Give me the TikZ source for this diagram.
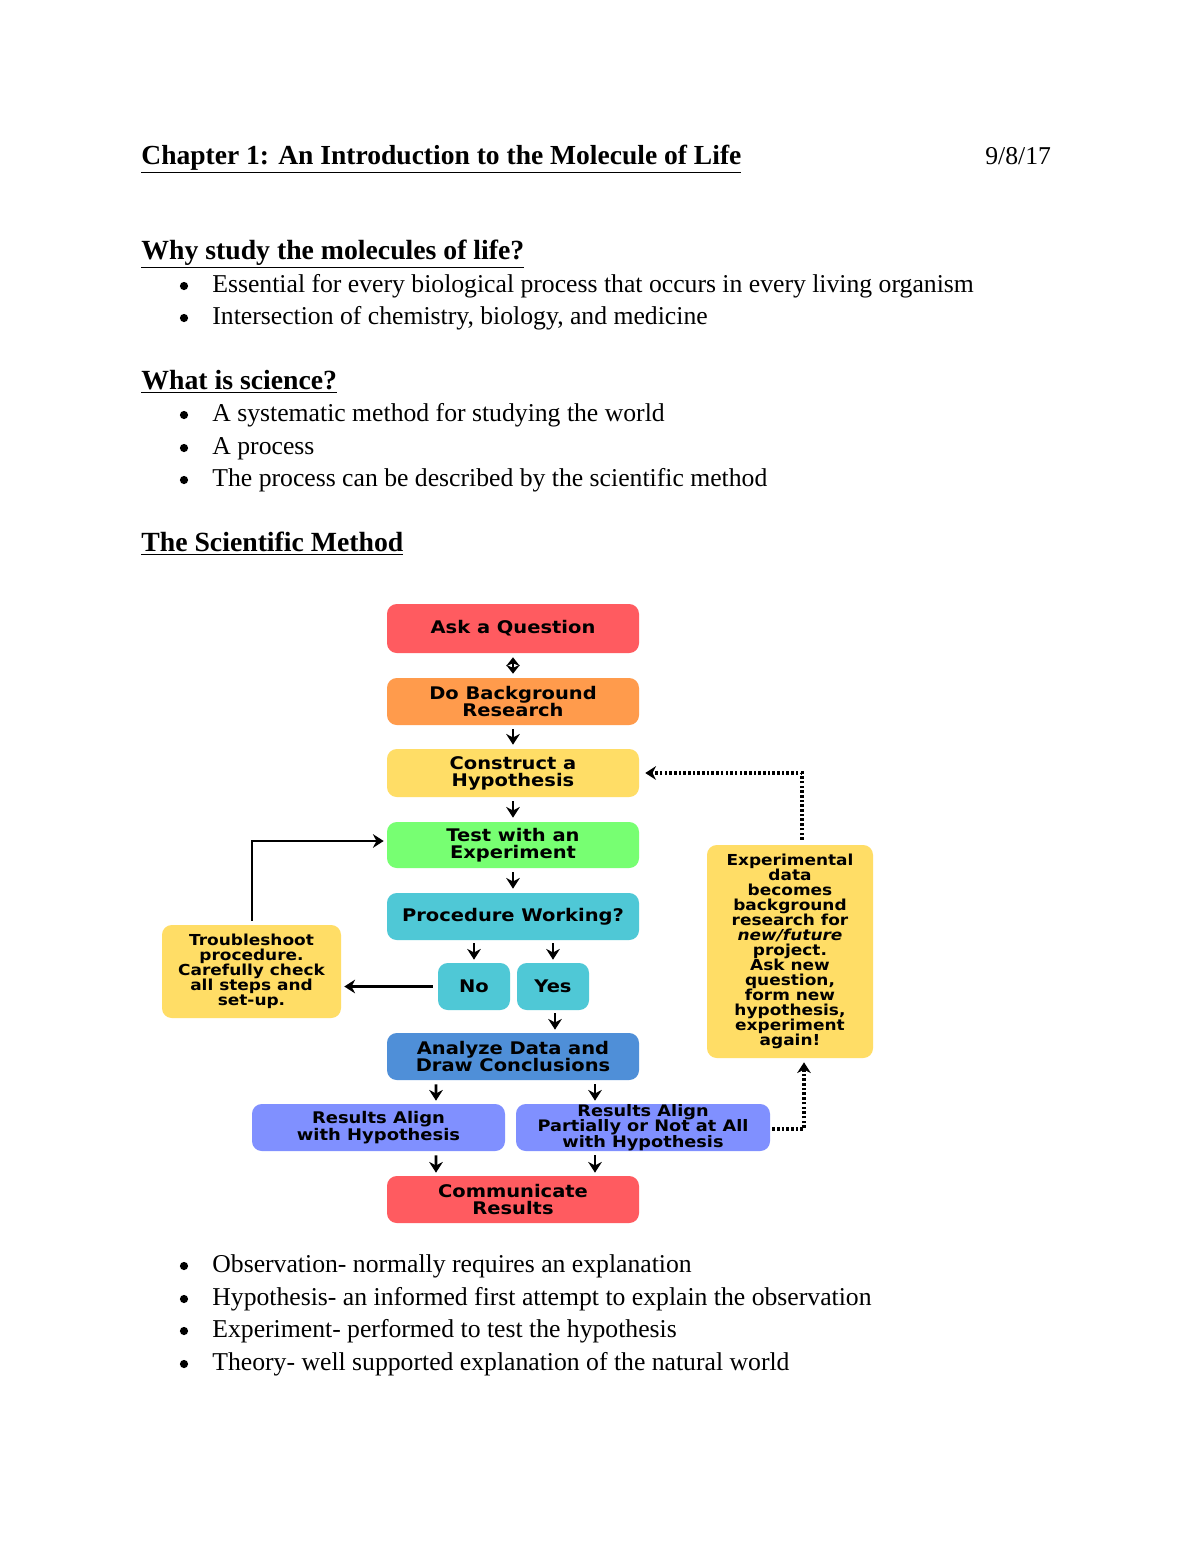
\documentclass[tikz,border=0pt]{standalone}
\usepackage{fontspec}
\setmainfont{Liberation Serif}
\setsansfont{DejaVu Sans}
\newfontfamily\fcf[FakeStretch=1.12]{DejaVu Sans}
\usetikzlibrary{arrows.meta,calc}
\definecolor{cred}{HTML}{FF5B60}
\definecolor{corange}{HTML}{FF9B4C}
\definecolor{cyellow}{HTML}{FFDD66}
\definecolor{cgreen}{HTML}{77FF72}
\definecolor{ccyan}{HTML}{4FC8D6}
\definecolor{cblue}{HTML}{4F8FD8}
\definecolor{cperi}{HTML}{8090FF}
\newcommand\pxu{0.51191pt}
\newcommand\ulin[1]{\underline{#1}}
\newcommand\tightls{\setlength{\lineskiplimit}{-100pt}\setlength{\lineskip}{0pt}}
\begin{document}
\begin{tikzpicture}[x=0.51191pt,y=-0.51191pt,
  txt/.style={anchor=base west,inner sep=0pt,font=\fontsize{13.15}{15}\selectfont},
  head/.style={txt,font=\fontsize{14.2}{16}\selectfont\bfseries},
  fc/.style={rectangle,rounded corners=5pt,draw=none,align=center,inner sep=0pt,text=black,
    font=\fcf\bfseries\fontsize{8.9}{8.7}\selectfont\tightls},
  fcs/.style={fc,font=\fcf\bfseries\fontsize{7.75}{7.65}\selectfont\tightls},
  arr/.style={-{Stealth[length=5.5pt,width=7pt]},line width=1.5pt},
  dotarr/.style={-{Stealth[length=5.5pt,width=7pt]},line width=1.7pt,dash pattern=on 1.3pt off 1.1pt},
  bul/.style={circle,fill=black,inner sep=0pt,minimum size=4.2pt}]
\useasboundingbox (0,0) rectangle (1200,1553);
\fill[white] (0,0) rectangle (1200,1553);

% headings and text
\node[head,font=\fontsize{14.1}{16}\selectfont\bfseries] (title) at (141,164) {\ulin{Chapter 1: An Introduction to the Molecule of Life}};
\node[txt] (date) at (985,164) {9/8/17};

\node[head] (h1) at (141,259) {\ulin{Why study the molecules of life?}};
\node[bul] (b1) at (184,286) {};
\node[txt] (t1) at (212,292) {Essential for every biological process that occurs in every living organism};
\node[bul] (b2) at (184,318) {};
\node[txt] (t2) at (212,324) {Intersection of chemistry, biology, and medicine};

\node[head] (h2) at (141,389) {\ulin{What is science?}};
\node[bul] (b3) at (184,415) {};
\node[txt] (t3) at (212,421) {A systematic method for studying the world};
\node[bul] (b4) at (184,448) {};
\node[txt] (t4) at (212,454) {A process};
\node[bul] (b5) at (184,480) {};
\node[txt] (t5) at (212,486) {The process can be described by the scientific method};

\node[head] (h3) at (141,551) {\ulin{The Scientific Method}};

\node[bul] (b6) at (184,1266) {};
\node[txt] (t6) at (212,1272) {Observation- normally requires an explanation};
\node[bul] (b7) at (184,1299) {};
\node[txt] (t7) at (212,1305) {Hypothesis- an informed first attempt to explain the observation};
\node[bul] (b8) at (184,1331) {};
\node[txt] (t8) at (212,1337) {Experiment- performed to test the hypothesis};
\node[bul] (b9) at (184,1364) {};
\node[txt] (t9) at (212,1370) {Theory- well supported explanation of the natural world};

% flowchart boxes
\node[fc,fill=cred,minimum width=252*\pxu,minimum height=49*\pxu] (ask) at (513,628.5) {Ask a Question};
\node[fc,fill=corange,minimum width=252*\pxu,minimum height=47*\pxu] (bg) at (513,701.5) {Do Background\\Research};
\node[fc,fill=cyellow,minimum width=252*\pxu,minimum height=48*\pxu] (hyp) at (513,773) {Construct a\\Hypothesis};
\node[fc,fill=cgreen,minimum width=252*\pxu,minimum height=46*\pxu] (test) at (513,845) {Test with an\\Experiment};
\node[fc,fill=ccyan,minimum width=252*\pxu,minimum height=47*\pxu] (proc) at (513,916.5) {Procedure Working?};
\node[fc,fill=ccyan,minimum width=72*\pxu,minimum height=47*\pxu] (no) at (474,986.5) {No};
\node[fc,fill=ccyan,minimum width=72*\pxu,minimum height=47*\pxu] (yes) at (553,986.5) {Yes};
\node[fcs,fill=cyellow,minimum width=179*\pxu,minimum height=93*\pxu] (trouble) at (251.5,971.5)
  {Troubleshoot\\procedure.\\Carefully check\\all steps and\\set-up.};
\node[fc,fill=cblue,minimum width=252*\pxu,minimum height=47*\pxu] (ana) at (513,1056.5) {Analyze Data and\\Draw Conclusions};
\node[fc,fill=cperi,minimum width=253*\pxu,minimum height=47*\pxu,font=\fcf\bfseries\fontsize{8.2}{8.7}\selectfont\tightls] (ralign) at (378.5,1127.5) {Results Align\\with Hypothesis};
\node[fc,fill=cperi,minimum width=254*\pxu,minimum height=47*\pxu,font=\fcf\bfseries\fontsize{8.1}{7.9}\selectfont\tightls] (rpart) at (643,1127.5) {Results Align\\Partially or Not at All\\with Hypothesis};
\node[fc,fill=cred,minimum width=252*\pxu,minimum height=47*\pxu] (comm) at (513,1199.5) {Communicate\\Results};
\node[fcs,fill=cyellow,minimum width=166*\pxu,minimum height=213*\pxu] (exp) at (790,951.5)
  {Experimental\\data\\becomes\\background\\research for\\\textit{new/future}\\project.\\Ask new\\question,\\form new\\hypothesis,\\experiment\\again!};

% connectors
\draw[arr,{Stealth[length=4.5pt,width=7pt]}-{Stealth[length=4.5pt,width=7pt]},shorten <=2pt,shorten >=2pt] (ask) -- (bg);
\draw[arr,shorten <=2pt,shorten >=2pt] (bg) -- (hyp);
\draw[arr,shorten <=2pt,shorten >=2pt] (hyp) -- (test);
\draw[arr,shorten <=2pt,shorten >=2pt] (test) -- (proc);
\draw[arr,shorten <=1.5pt,shorten >=1.5pt] (proc.south -| no) -- (no);
\draw[arr,shorten <=1.5pt,shorten >=1.5pt] (proc.south -| yes) -- (yes);
\draw[arr,shorten <=1.5pt,shorten >=1.5pt] ($(yes.south)+(2,0)$) -- ($(ana.north -| yes)+(2,0)$);
\draw[arr,shorten <=2.5pt,shorten >=1.5pt] (no.west) -- (no.west -| trouble.east);
\draw[arr,shorten >=1.5pt] ($(trouble.north)+(0.5,-4)$) |- ($(test.west)+(0,-4)$);
\draw[arr,shorten <=2pt,shorten >=1.5pt] ($(ana.south)+(-77,0)$) -- ($(ralign.north)+(57.5,0)$);
\draw[arr,shorten <=2pt,shorten >=1.5pt] ($(ana.south)+(82,0)$) -- ($(rpart.north)+(-48,0)$);
\draw[arr,shorten <=2pt,shorten >=1.5pt] ($(ralign.south)+(57.5,0)$) -- ($(comm.north)+(-77,0)$);
\draw[arr,shorten <=2pt,shorten >=1.5pt] ($(rpart.south)+(-48,0)$) -- ($(comm.north)+(82,0)$);
\draw[dotarr,shorten <=2.5pt,shorten >=3pt] ($(exp.north)+(12,0)$) |- (hyp.east);
\draw[dotarr,shorten <=1pt,shorten >=2pt] ($(rpart.east)+(0,1.5)$) -| ($(exp.south)+(14,0)$);
\end{tikzpicture}
\end{document}
